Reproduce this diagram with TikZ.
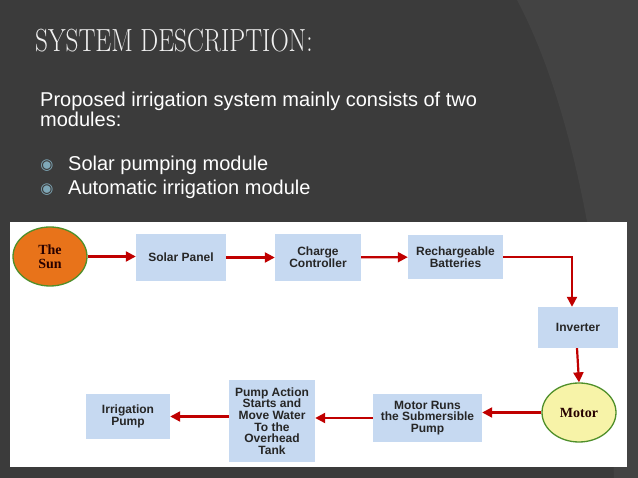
\documentclass[tikz,border=0pt]{standalone}
\usepackage{fontspec}
\usepackage{graphicx}
\usepackage{tikz}
\usetikzlibrary{shapes.geometric,arrows.meta}

\newfontfamily\arialfont{Liberation Sans}
\newfontfamily\timesfont{Liberation Serif}
\newfontfamily\symfont{DejaVu Sans}

\definecolor{bgdark}{HTML}{3B3B3B}
\definecolor{bglight}{HTML}{434343}
\definecolor{boxblue}{HTML}{C6D9F1}
\definecolor{flowred}{HTML}{C00000}
\definecolor{sunorange}{HTML}{E8731A}
\definecolor{motoryellow}{HTML}{F7F3A8}
\definecolor{rimgreen}{HTML}{4F8F2A}
\definecolor{bullblue}{HTML}{7FA8B8}

\begin{document}
\begin{tikzpicture}[x=1pt,y=-1pt,
    bnode/.style={fill=boxblue, inner sep=1pt, align=center, text=black!85,
      font=\arialfont\fontsize{12}{11.6}\selectfont\bfseries},
    enode/.style={ellipse, draw=rimgreen, line width=1.3pt, minimum width=74pt,
      minimum height=59pt, inner sep=0pt, align=center, text=black!85!red,
      font=\timesfont\fontsize{14}{14.3}\selectfont\bfseries},
    tnode/.style={anchor=base west, inner sep=0pt, text=white,
      font=\arialfont\fontsize{20}{20}\selectfont},
    bullet/.style={anchor=base, inner sep=0pt, text=bullblue,
      font=\symfont\fontsize{15}{15}\selectfont},
    flow/.style={draw=flowred, line width=2.2pt, -{Triangle[length=10pt,width=10pt]}}]
    \useasboundingbox (0,0) rectangle (638,478);

    % slide background
    \fill[bgdark] (0,0) rectangle (638,478);
    \fill[bglight] (517,0) .. controls (565,90) and (605,250) .. (614,478)
        -- (638,478) -- (638,0) -- cycle;

    % title and text
    \node (title) at (35,52) [anchor=base west, inner sep=0pt, text=white!94!black,
        font=\fontsize{32}{32}\selectfont] {\scalebox{0.79}[1]{SYSTEM DESCRIPTION:}};
    \node[tnode] (intro1) at (40,107) {Proposed irrigation system mainly consists of two};
    \node[tnode] (intro2) at (40,127) {modules:};
    \node[bullet] (b1) at (47,170) {◉};
    \node[bullet] (b2) at (47,194) {◉};
    \node[tnode] (solarmod) at (68,171) {Solar pumping module};
    \node[tnode] (automod) at (68,195) {Automatic irrigation module};

    % diagram panel
    \fill[white] (10,222) rectangle (627,467);

    \node[enode, fill=sunorange] (sun) at (50,256.5) {The\\Sun};
    \node[bnode, minimum width=90pt, minimum height=47pt] (solar) at (181,257.5) {Solar Panel};
    \node[bnode, minimum width=86pt, minimum height=47pt] (charge) at (318,257.5) {Charge\\Controller};
    \node[bnode, minimum width=95pt, minimum height=44pt] (batt) at (455.5,257) {Rechargeable\\Batteries};
    \node[bnode, minimum width=80pt, minimum height=41pt] (inv) at (578,327.5) {Inverter};
    \node[enode, fill=motoryellow] (motor) at (579,412.5) {Motor};
    \node[bnode, minimum width=109pt, minimum height=48pt] (runs) at (427.5,418) {Motor Runs\\the Submersible\\Pump};
    \node[bnode, minimum width=86pt, minimum height=82pt] (pump) at (272,421) {Pump Action\\Starts and\\Move Water\\To the\\Overhead\\Tank};
    \node[bnode, minimum width=84pt, minimum height=45pt] (irr) at (128,416.5) {Irrigation\\Pump};

    \draw[flow] (sun.east) -- (sun.east -| solar.west);
    \draw[flow] (solar) -- (charge);
    \draw[flow] (charge) -- (batt);
    \draw[flow] (batt.east) -| ([xshift=-6pt]inv.north);
    \draw[flow] ([xshift=-1pt]inv.south) -- (motor.north);
    \draw[flow] (motor.west) -- (motor.west -| runs.east);
    \draw[flow] (runs.west) -- (runs.west -| pump.east);
    \draw[flow] (irr.east -| pump.west) -- (irr.east);
\end{tikzpicture}
\end{document}
